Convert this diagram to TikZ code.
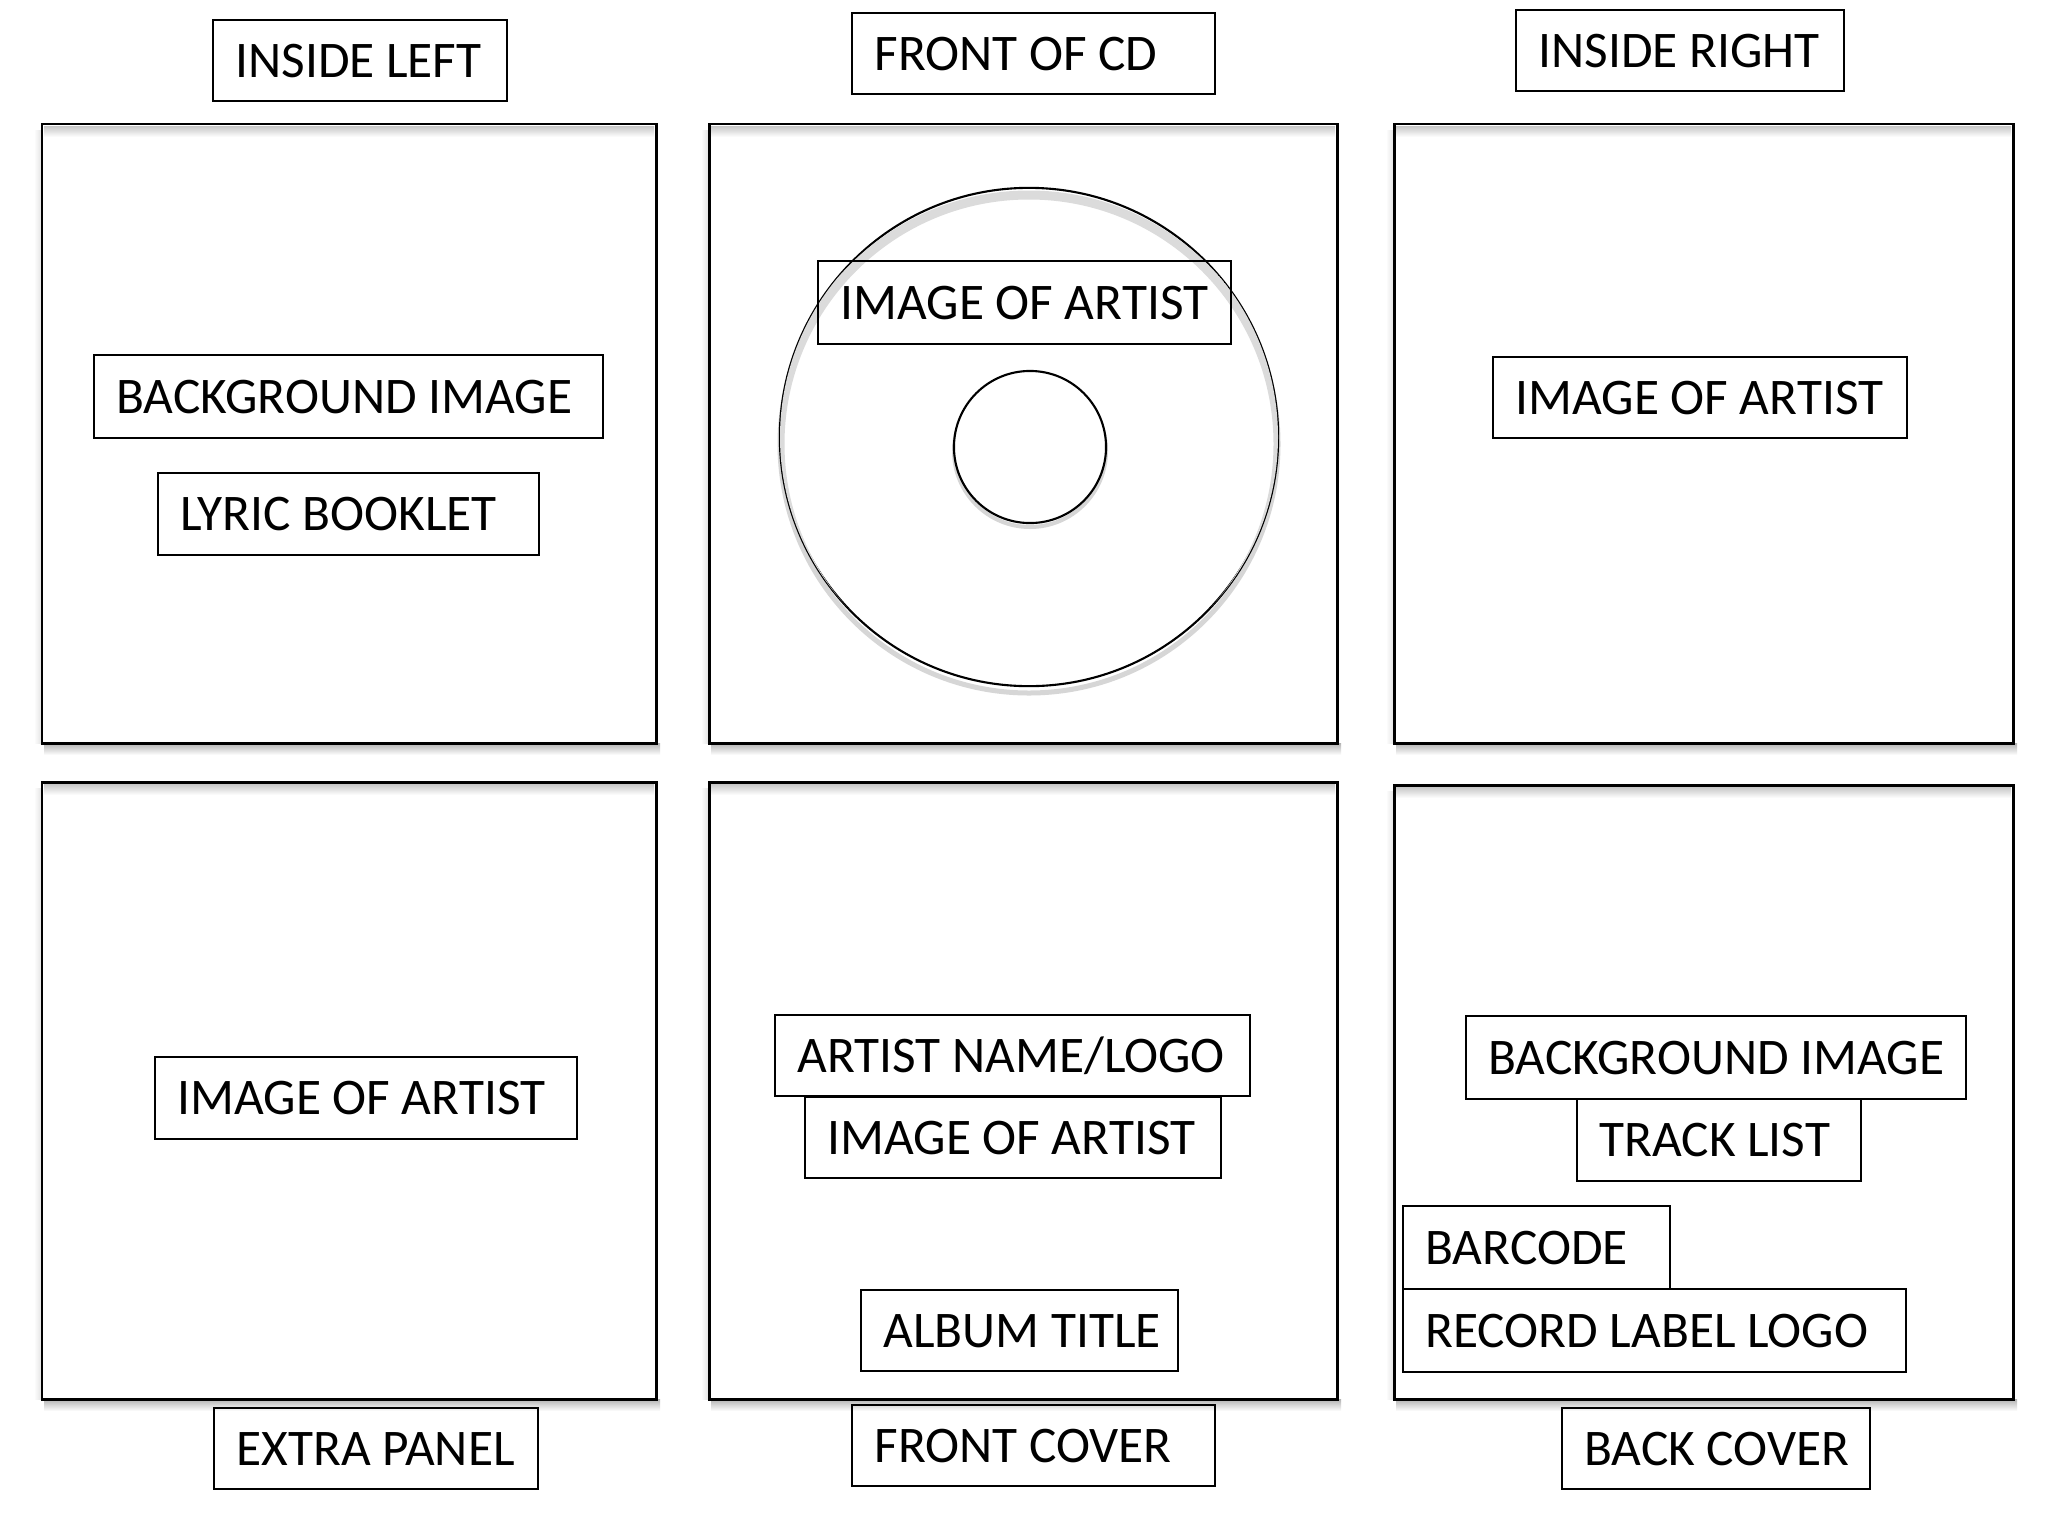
\documentclass[tikz,border=0pt]{standalone}
\usepackage{fontspec}
\setmainfont{Carlito}
\tikzset{
  lblbox/.style={draw=black, line width=0.6pt, inner sep=0pt, outer sep=0pt},
  lbltext/.style={inner sep=0pt, outer sep=0pt, font=\fontsize{14.6pt}{17pt}\selectfont},
  panel/.style={draw=black, line width=0.85pt, inner sep=0pt, outer sep=0pt},
  ring/.style={circle, draw=black, line width=0.6pt, fill=white, inner sep=0pt}
}
\newcommand\lbl[6]{%
  \node[lblbox, minimum width={(#4-#2)*0.01cm}, minimum height={(#5-#3)*0.01cm}, anchor=north west] (#1) at (#2,#3) {};
  \node[lbltext, anchor=base west] (#1-t) at ([xshift=0.225cm,yshift=-0.165cm]#1.west) {#6};}
\newcommand\panelbox[5]{%
  \shade[top color=black!30, bottom color=white] (#2+2,#5) rectangle (#4+4,#5+12);
  \shade[left color=white, right color=black!12] (#2-8,#3+6) rectangle (#2,#5);
  \node[panel, minimum width={(#4-#2)*0.01cm}, minimum height={(#5-#3)*0.01cm}, anchor=north west] (#1) at (#2,#3) {};
  \shade[top color=black!22, bottom color=white] (#2+2,#3+2) rectangle (#4-2,#3+13);}
\begin{document}
\begin{tikzpicture}[x=0.01cm,y=-0.01cm]
\useasboundingbox[fill=white] (0,0) rectangle (2048,1536);
% panels
\panelbox{p1}{42}{124}{656}{743}
\panelbox{p2}{709}{124}{1337}{743}
\panelbox{p3}{1394}{124}{2013}{743}
\panelbox{p4}{42}{782}{656}{1399}
\panelbox{p5}{709}{782}{1337}{1399}
\panelbox{p6}{1394}{785}{2013}{1399}
% CD disc
\draw[black!16, line width=0.05cm] (1029,444) circle (249);
\node[ring, minimum size=4.98cm] (disc) at (1029,437) {};
\begin{scope}
  \clip (1029,437) circle (249);
  \draw[black!14, line width=0.09cm] (1029,444) circle (249);
\end{scope}
\draw[black!16, line width=0.04cm] (1030,451) circle (76);
\node[ring, minimum size=1.52cm] (hole) at (1030,447) {};
% labels
\lbl{insideleft}{213}{20}{507}{101}{INSIDE LEFT}
\lbl{frontcd}{852}{13}{1215}{94}{FRONT OF CD}
\lbl{insideright}{1516}{10}{1844}{91}{INSIDE RIGHT}
\lbl{bgimg1}{94}{355}{603}{438}{BACKGROUND IMAGE}
\lbl{lyric}{158}{473}{539}{555}{LYRIC BOOKLET}
\lbl{artistcd}{818}{261}{1231}{344}{IMAGE OF ARTIST}
\lbl{artist2}{1493}{357}{1907}{438}{IMAGE OF ARTIST}
\lbl{artist3}{155}{1057}{577}{1139}{IMAGE OF ARTIST}
\lbl{artistname}{775}{1015}{1250}{1096}{ARTIST NAME/LOGO}
\lbl{artist4}{805}{1097}{1221}{1178}{IMAGE OF ARTIST}
\lbl{album}{861}{1290}{1178}{1371}{ALBUM TITLE}
\lbl{bgimg2}{1466}{1016}{1966}{1099}{BACKGROUND IMAGE}
\lbl{tracks}{1577}{1099}{1861}{1181}{TRACK LIST}
\lbl{barcode}{1403}{1206}{1670}{1289}{BARCODE}
\lbl{recordlabel}{1403}{1289}{1906}{1372}{RECORD LABEL LOGO}
\lbl{extrapanel}{214}{1408}{538}{1489}{EXTRA PANEL}
\lbl{frontcover}{852}{1405}{1215}{1486}{FRONT COVER}
\lbl{backcover}{1562}{1408}{1870}{1489}{BACK COVER}
\end{tikzpicture}
\end{document}
